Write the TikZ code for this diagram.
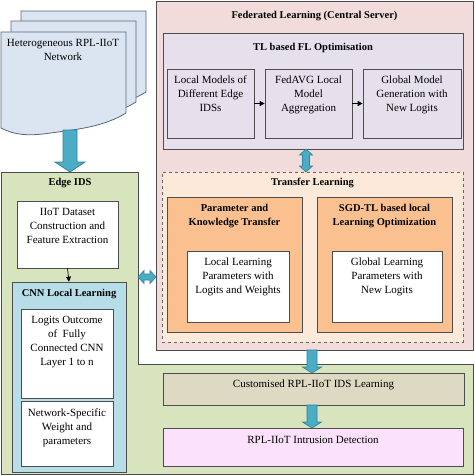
\documentclass[tikz,border=0pt]{standalone}
\usepackage{fontspec}
\setmainfont{Liberation Serif}
\usetikzlibrary{fit,positioning,calc,arrows.meta}
\definecolor{docfill}{HTML}{DBE5F1}
\definecolor{docline}{HTML}{556677}
\definecolor{pinkfill}{HTML}{F2DCDB}
\definecolor{lavfill}{HTML}{E5E0EC}
\definecolor{peachfill}{HTML}{FDE9D9}
\definecolor{orangefill}{HTML}{FAC090}
\definecolor{cnnfill}{HTML}{B7DEE8}
\definecolor{greenfill}{HTML}{D7E4BD}
\definecolor{tanfill}{HTML}{DDD9C3}
\definecolor{magfill}{HTML}{FBE1FB}
\definecolor{arrfill}{HTML}{4BACC6}
\definecolor{arrline}{HTML}{31849B}
\definecolor{bline}{HTML}{4D4D4D}
\newcommand\docpath{(1,32) -- (126,32) -- (126,113) .. controls (108,124) and (88,128) .. (65,131) .. controls (42,134) and (22,139) .. (1,128) -- cycle}
\newcommand\blkdown[5]{\draw[blk] let \p1=(#1), \p2=(#2) in
  (\x1-#3,\y1) -- (\x1+#3,\y1) -- (\x1+#3,\y2+#5) -- (\x1+#4,\y2+#5) -- (\x1,\y2)
  -- (\x1-#4,\y2+#5) -- (\x1-#3,\y2+#5) -- cycle;}
\newcommand\blkvdbl[5]{\draw[blk] let \p1=(#1), \p2=(#2) in
  (\x1,\y1) -- (\x1+#4,\y1-#5) -- (\x1+#3,\y1-#5) -- (\x1+#3,\y2+#5) -- (\x1+#4,\y2+#5) -- (\x1,\y2)
  -- (\x1-#4,\y2+#5) -- (\x1-#3,\y2+#5) -- (\x1-#3,\y1-#5) -- (\x1-#4,\y1-#5) -- cycle;}
\newcommand\blkhdbl[5]{\draw[blk] let \p1=(#1), \p2=(#2) in
  (\x1,\y1) -- (\x1+#5,\y1+#4) -- (\x1+#5,\y1+#3) -- (\x2-#5,\y1+#3) -- (\x2-#5,\y1+#4) -- (\x2,\y1)
  -- (\x2-#5,\y1-#4) -- (\x2-#5,\y1-#3) -- (\x1+#5,\y1-#3) -- (\x1+#5,\y1-#4) -- cycle;}
\begin{document}
\begin{tikzpicture}[x=1pt,y=-1pt,
  bx/.style={draw=bline, line width=0.7pt, inner sep=0pt},
  doc/.style={draw=docline, fill=docfill, line width=0.8pt},
  txt/.style={font=\fontsize{11}{14}\selectfont, align=center, inner sep=0pt},
  ttl/.style={font=\fontsize{10.5}{14}\selectfont\bfseries, align=center, inner sep=0pt},
  blk/.style={draw=arrline, fill=arrfill, line width=0.7pt, line join=miter},
  sarr/.style={draw=black, line width=0.7pt, -{Triangle[length=5pt,width=5pt]}}]
\useasboundingbox (0,0) rectangle (474,476);
% green L-shaped region
\draw[draw=gray!60!black, fill=greenfill, line width=0.8pt]
  (1,172) -- (138,172) -- (138,364) -- (473,364) -- (473,474) -- (1,474) -- cycle;
% stacked documents
\draw[doc, shift={(20,-21)}] \docpath;
\draw[doc, shift={(10,-11)}] \docpath;
\draw[doc] \docpath;
\node[txt] (net) at (63,50) {Heterogeneous RPL-IIoT\\Network};
\coordinate (netbot) at (70,130);
\coordinate (edgetop) at (70,172);
\blkdown{netbot}{edgetop}{7pt}{15pt}{10pt}
% Edge IDS
\node[ttl] (edgettl) at (70,183) {Edge IDS};
\node[bx, fill=white, fit={(17,201) (118,268)}] (ds) {};
\node[txt, below=7pt of ds.north] (dst) {IIoT Dataset\\Construction and\\Feature Extraction};
\node[bx, fill=cnnfill, fit={(12,282) (126,472)}] (cnn) {};
\draw[sarr] (ds.south) -- (cnn.north);
\node[ttl, below=7pt of cnn.north] (cnnttl) {CNN Local Learning};
\node[bx, fill=white, fit={(21,309) (113,398)}] (lg) {};
\node[txt, below=7pt of lg.north] (lgt) {Logits Outcome\\of~ Fully\\Connected CNN\\Layer 1 to n};
\node[bx, fill=white, fit={(21,401) (113,466)}] (ns) {};
\node[txt, below=8pt of ns.north] (nst) {Network-Specific\\Weight and\\parameters};
% Federated learning
\node[draw=bline, line width=0.9pt, fill=pinkfill, inner sep=0pt, fit={(156,1) (473,350)}] (fl) {};
\node[ttl, below=10pt of fl.north] (flttl) {Federated Learning (Central Server)};
\node[bx, fill=lavfill, fit={(163,33) (463,149)}] (tlfl) {};
\node[ttl, below=10pt of tlfl.north] (tlflttl) {TL based FL Optimisation};
\node[bx, fill=lavfill, fit={(167,69) (254,138)}] (lm) {};
\node[bx, fill=lavfill, fit={(265,69) (352,138)}] (fa) {};
\node[bx, fill=lavfill, fit={(363,69) (461,138)}] (gm) {};
\node[txt, below=7pt of lm.north] (lmt) {Local Models of\\Different Edge\\IDSs};
\node[txt, below=7pt of fa.north] (fat) {FedAVG Local\\Model\\Aggregation};
\node[txt, below=7pt of gm.north] (gmt) {Global Model\\Generation with\\New Logits};
\draw[sarr] (lm.east) -- (fa.west);
\draw[sarr] (fa.east) -- (gm.west);
% Transfer learning
\node[draw=gray!80!black, dashed, line width=0.7pt, fill=peachfill, inner sep=0pt, fit={(162,172) (463,342)}] (tl) {};
\node[ttl, below=6pt of tl.north] (tlttl) {Transfer Learning};
\node[bx, fill=orangefill, fit={(167,197) (302,332)}] (pk) {};
\node[ttl, below=7pt of pk.north] (pkttl) {Parameter and\\Knowledge Transfer};
\node[bx, fill=white, fit={(187,251) (289,322)}] (ll) {};
\node[txt, below=7pt of ll.north] (llt) {Local Learning\\Parameters with\\Logits and Weights};
\node[bx, fill=orangefill, fit={(317,197) (452,332)}] (sg) {};
\node[ttl, below=7pt of sg.north] (sgttl) {SGD-TL based local\\Learning Optimization};
\node[bx, fill=white, fit={(332,251) (442,322)}] (gl) {};
\node[txt, below=7pt of gl.north] (glt) {Global Learning\\Parameters with\\New Logits};
\coordinate (va) at (306,149);
\coordinate (vb) at (306,172);
\blkvdbl{va}{vb}{3.5pt}{6.5pt}{6pt}
\coordinate (ha) at (138,277);
\coordinate (hb) at (156,277);
\blkhdbl{ha}{hb}{3pt}{6.5pt}{6pt}
% bottom boxes
\node[bx, fill=tanfill, fit={(163,373) (464,405)}] (cu) {};
\node[txt, yshift=4pt] (cut) at (cu.center) {Customised RPL-IIoT IDS Learning};
\node[bx, fill=magfill, fit={(163,428) (463,466)}] (rd) {};
\node[txt, yshift=7pt] (rdt) at (rd.center) {RPL-IIoT Intrusion Detection};
\coordinate (fla) at (312,350);
\coordinate (cua) at (312,373);
\coordinate (cub) at (312,405);
\coordinate (rda) at (312,428);
\blkdown{fla}{cua}{5pt}{9.5pt}{6pt}
\blkdown{cub}{rda}{5pt}{9.5pt}{6pt}
\end{tikzpicture}
\end{document}
